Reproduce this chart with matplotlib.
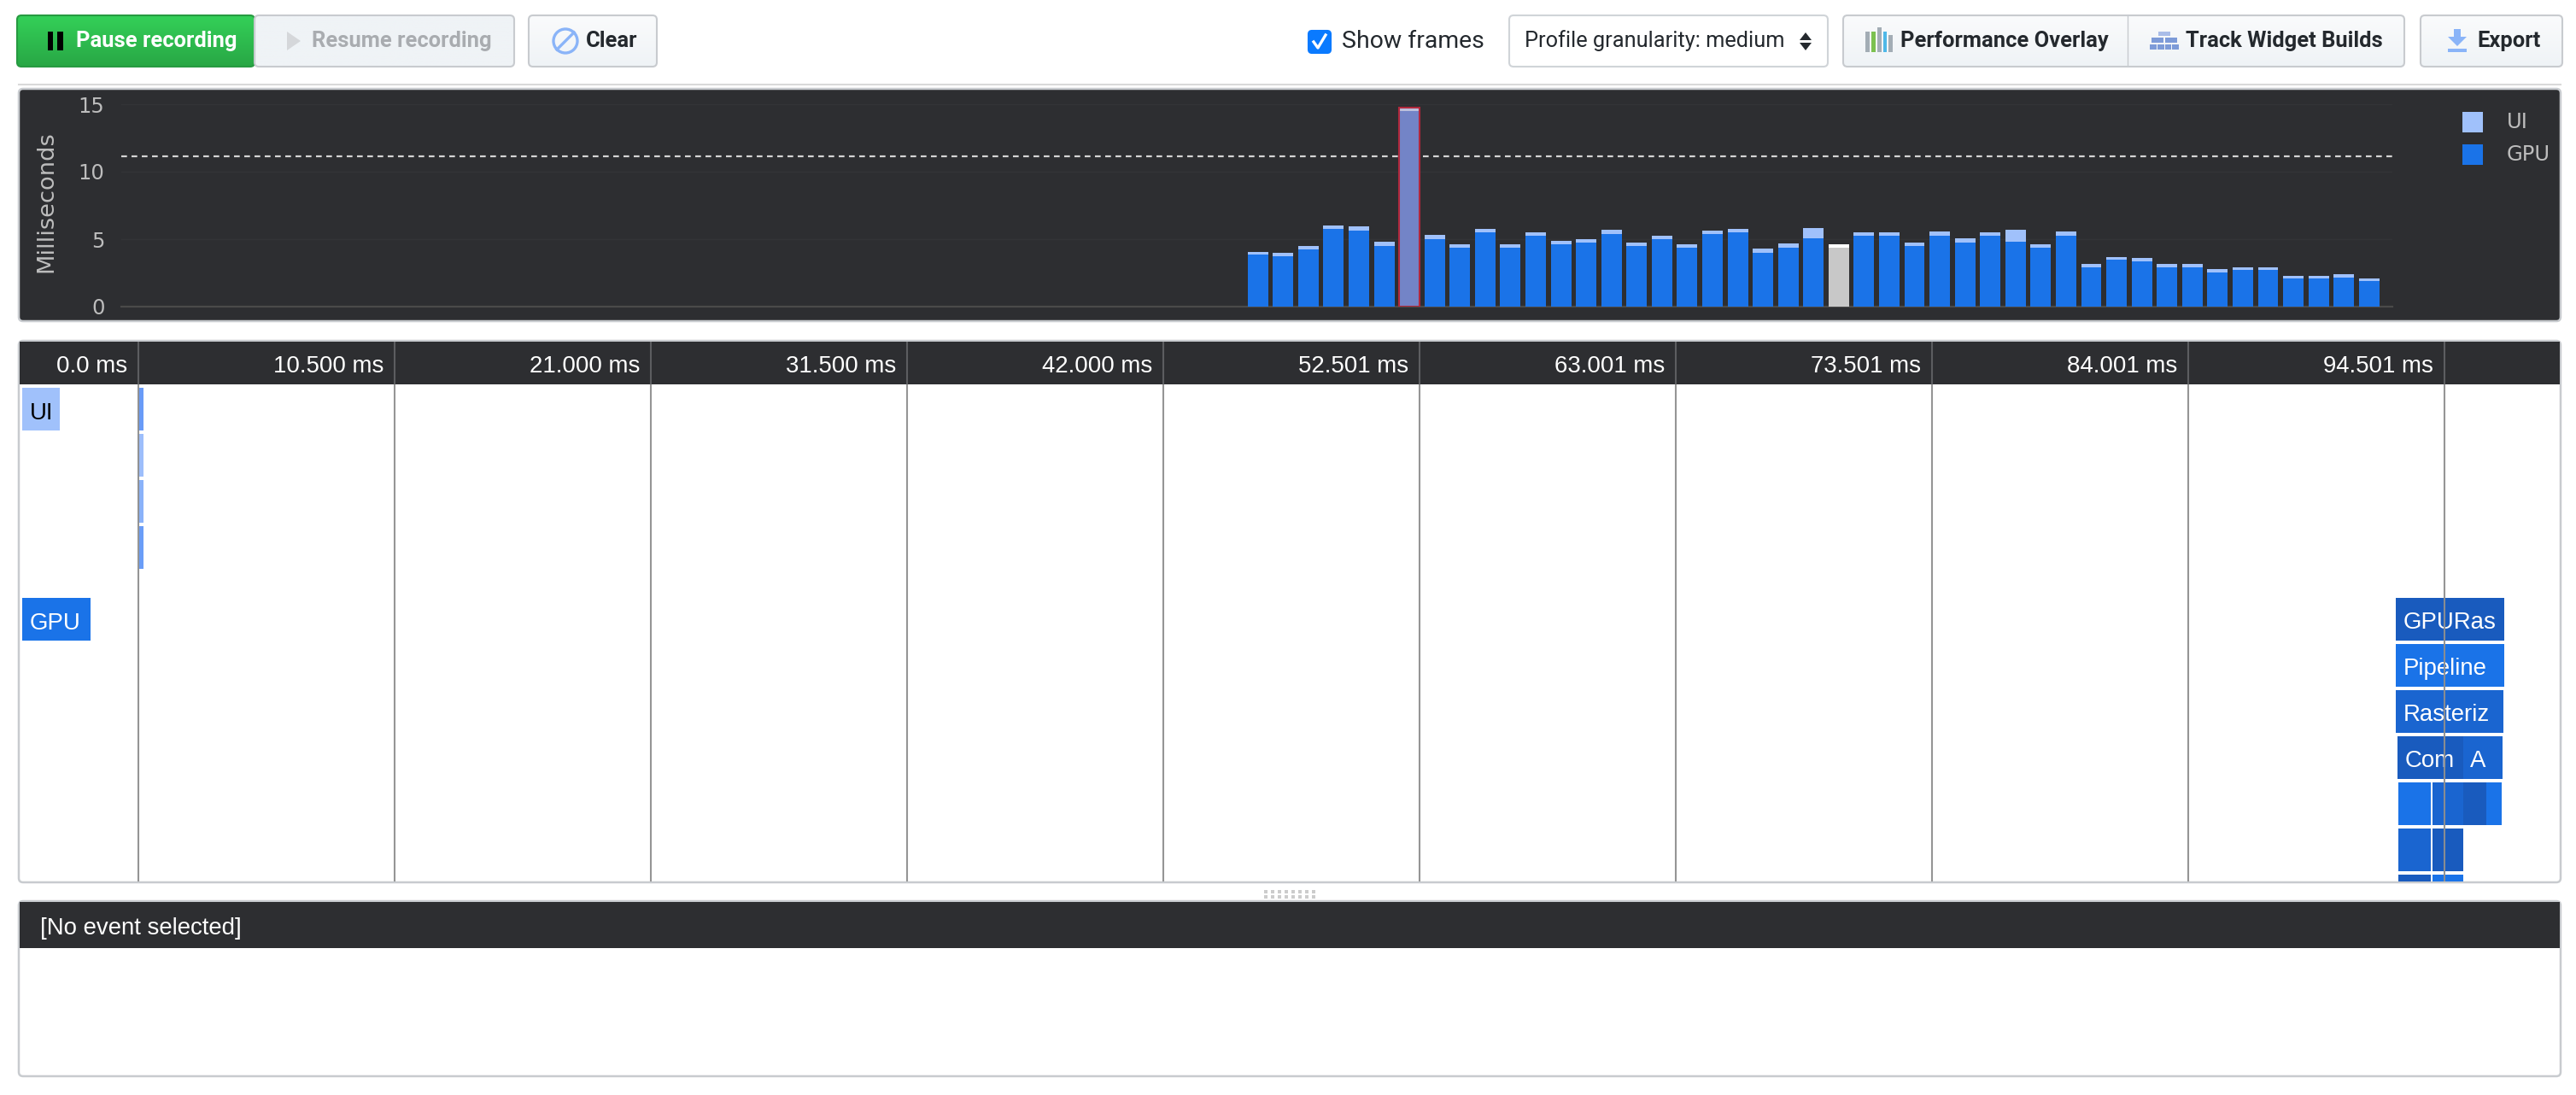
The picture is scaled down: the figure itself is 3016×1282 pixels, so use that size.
"""DevTools performance page: frame chart on top, timeline flame rows below."""
import matplotlib
matplotlib.use("Agg")
import matplotlib.pyplot as plt
import numpy as np
from matplotlib.colors import LinearSegmentedColormap
from matplotlib.patches import FancyBboxPatch, Rectangle, Circle, Polygon

W, H = 3016, 1282
INK = "#24292e"
DARK = "#2d2e31"
EDGE = "#c8cbcf"
UI_C = "#a0c1fb"
GPU_C = "#1a73e8"
GPU_MID = "#1a65d0"
GPU_DEEP = "#195bbe"

# frame chart, values in ms, first 45 slots of the chart are empty
frame_slot = np.arange(45, 90)
frame_gpu = [3.83, 3.71, 4.22, 5.74, 5.61, 4.47, 14.51, 4.98, 4.34, 5.49, 4.34, 5.23,
             4.60, 4.72, 5.36, 4.47, 4.98, 4.34, 5.36, 5.49, 3.96, 4.34, 5.04, 4.34,
             5.23, 5.23, 4.47, 5.23, 4.72, 5.23, 4.79, 4.34, 5.23, 2.94, 3.45, 3.33,
             2.94, 2.94, 2.56, 2.69, 2.69, 2.06, 2.06, 2.18, 1.93]
frame_ui = [0.25, 0.25, 0.25, 0.25, 0.32, 0.32, 0.21, 0.32, 0.25, 0.25, 0.25, 0.25,
            0.25, 0.25, 0.32, 0.25, 0.25, 0.25, 0.25, 0.25, 0.32, 0.32, 0.76, 0.25,
            0.25, 0.25, 0.25, 0.32, 0.32, 0.25, 0.89, 0.25, 0.32, 0.25, 0.25, 0.25,
            0.25, 0.25, 0.25, 0.25, 0.25, 0.25, 0.25, 0.25, 0.13]
selected_frame = 6
grey_frame = 23
target_ms = 11.11
y_ticks = [0, 5, 10, 15]

# timeline
tick_ms = [0.0, 10.5, 21.0, 31.5, 42.0, 52.501, 63.001, 73.501, 84.001, 94.501]
tick_labels = ["0.0 ms", "10.500 ms", "21.000 ms", "31.500 ms", "42.000 ms",
               "52.501 ms", "63.001 ms", "73.501 ms", "84.001 ms", "94.501 ms"]

ui_row = [0, 1, 2, 3]
ui_start = [0.01, 0.01, 0.01, 0.02]
ui_dur = [0.21, 0.19, 0.19, 0.18]
ui_col = ["#699bf7", "#9dbefb", "#8ab2f9", "#6a9df7"]

gpu_row = [0, 1, 2, 3, 3, 4, 4, 4, 4, 5, 5, 6, 6]
gpu_start = [92.52, 92.52, 92.52, 92.59, 95.28, 92.60, 94.00, 95.28, 96.20, 92.60, 94.01, 92.60, 94.02]
gpu_dur = [4.43, 4.43, 4.40, 2.69, 1.59, 1.35, 1.28, 0.92, 0.65, 1.35, 1.26, 1.35, 1.25]
gpu_col = [GPU_DEEP, GPU_C, GPU_MID, GPU_DEEP, GPU_MID, GPU_C, GPU_MID, GPU_DEEP, GPU_C,
           GPU_MID, GPU_DEEP, GPU_DEEP, GPU_C]
gpu_text = ["GPURas", "Pipeline", "Rasteriz", "Com", "A", "", "", "", "", "", "", "", ""]

fig = plt.figure(figsize=(W / 100, H / 100), dpi=100)
fig.patch.set_facecolor("white")


def px_axes(x0, y0, x1, y1, **kw):
    return fig.add_axes([x0 / W, 1 - y1 / H, (x1 - x0) / W, (y1 - y0) / H], **kw)


# page chrome in pixel coordinates
pg = fig.add_axes([0, 0, 1, 1], zorder=0)
pg.set_xlim(0, W); pg.set_ylim(H, 0); pg.axis("off")
pg.set_autoscale_on(False)

BTN = dict(family="Roboto", fontweight="bold", va="center")
BTN_FS = 18.4


def rbox(x0, y0, x1, y1, fc="white", ec=EDGE, lw=1.5, r=5, z=1):
    p = FancyBboxPatch((x0, y0), x1 - x0, y1 - y0, boxstyle=f"round,pad=0,rounding_size={r}",
                       fc=fc, ec=ec, lw=lw, zorder=z)
    pg.add_patch(p)
    return p


def button(x0, x1, top, bottom, ec=EDGE, y0=18, y1=78):
    p = rbox(x0, y0, x1, y1, fc="none", ec=ec, z=3)
    cm = LinearSegmentedColormap.from_list("b", [top, bottom])
    im = pg.imshow(np.linspace(0, 1, 64).reshape(-1, 1), cmap=cm, aspect="auto",
                   extent=(x0, x1, y1, y0), zorder=2)
    im.set_clip_path(p)


button(20, 298, "#34d058", "#28a745", ec="#279a41")
button(298, 602, "#eff3f6", "#eff3f6")
button(619, 769, "#fafbfc", "#eff3f6")
button(2158, 2815, "#fafbfc", "#eff3f6")
button(2834, 3000, "#fafbfc", "#eff3f6")
pg.plot([2491, 2491], [19, 77], color=EDGE, lw=1, zorder=4)
rbox(1767, 18, 2140, 78, fc="white", ec="#d0d4d8", z=2)

pg.add_patch(Rectangle((55.5, 37), 6.5, 22, fc="black", zorder=5))
pg.add_patch(Rectangle((67, 37), 6.5, 22, fc="black", zorder=5))
pg.add_patch(Polygon([(336, 37), (352, 48), (336, 59)], fc="#d5d7da", zorder=5))
pg.add_patch(Circle((662, 48), 14, fc="none", ec="#8ab4f8", lw=2.4, zorder=5))
pg.plot([652, 672], [58, 38], color="#8ab4f8", lw=2.4, zorder=5)

pg.text(89, 48, "Pause recording", color="white", fontsize=BTN_FS, zorder=6, **BTN)
pg.text(365, 48, "Resume recording", color="#a9acb0", fontsize=BTN_FS, zorder=6, **BTN)
pg.text(686, 48, "Clear", color=INK, fontsize=BTN_FS, zorder=6, **BTN)

rbox(1532, 36, 1558, 62, fc="#0a7aff", ec="#0a7aff", r=4, z=3)
pg.plot([1538, 1543, 1552], [49, 56, 41], color="white", lw=2.4, zorder=5)
pg.text(1571, 49, "Show frames", color=INK, fontsize=20.4, family="Roboto", va="center", zorder=6)
pg.text(1785, 48, "Profile granularity: medium", color=INK, fontsize=18.3, family="Roboto",
        va="center", zorder=6)
pg.add_patch(Polygon([(2107, 47), (2114, 38), (2121, 47)], fc=INK, zorder=5))
pg.add_patch(Polygon([(2107, 50), (2114, 59), (2121, 50)], fc=INK, zorder=5))

# little icons on the right hand buttons
for bx, by, bc in zip([2184, 2191, 2198, 2204.7, 2211.3], [36.7, 36.7, 32, 36.7, 41],
                      ["#a3adb5", "#7cc150", "#a3adb5", "#4fb8e8", "#a3adb5"]):
    pg.add_patch(Rectangle((bx, by), 4.7, 61 - by, fc=bc, lw=0, zorder=5))
pg.add_patch(Rectangle((2526.7, 36.7), 14.3, 5.6, fc="#a9bde8", lw=0, zorder=5))
for bx in [2518.7, 2534.7]:
    pg.add_patch(Rectangle((bx, 44), 14.5, 6, fc="#7d9bd8", lw=0, zorder=5))
for bx in [2517, 2526, 2534.7, 2543]:
    pg.add_patch(Rectangle((bx, 52), 7.5, 6.3, fc="#7d9bd8", lw=0, zorder=5))
pg.add_patch(Polygon([(2873, 34), (2881, 34), (2881, 43), (2888, 43), (2877, 54), (2866, 43), (2873, 43)],
                     fc="#8ab4f8", zorder=5))
pg.add_patch(Rectangle((2866, 57), 22, 3.5, fc="#8ab4f8", zorder=5))

pg.text(2225, 48, "Performance Overlay", color=INK, fontsize=BTN_FS, zorder=6, **BTN)
pg.text(2559, 48, "Track Widget Builds", color=INK, fontsize=BTN_FS, zorder=6, **BTN)
pg.text(2900, 48, "Export", color=INK, fontsize=BTN_FS, zorder=6, **BTN)

# panels
rbox(22, 104, 2998, 376, fc=DARK, ec=EDGE, lw=1.8, r=5)
pg.plot([22, 2998], [99, 99], color="#d9d9d9", lw=1.5)
rbox(22, 399, 2998, 1033, fc="white", ec=EDGE, lw=1.8, r=5)
rbox(22, 1055, 2998, 1260, fc="white", ec=EDGE, lw=1.8, r=5)
pg.add_patch(Rectangle((23, 1056), 2974, 54, fc=DARK, zorder=2))
pg.text(47, 1087, "[No event selected]", color="white", fontsize=19.9,
        family="Liberation Sans", va="center", zorder=3)

# drag handle between the panels
for hy in [1042, 1048]:
    for hx in range(1480, 1540, 8):
        pg.add_patch(Rectangle((hx, hy), 4, 4, fc="#cccccc", zorder=2))

# frame chart
ax = px_axes(142, 122, 2801, 359, zorder=2)
ax.patch.set_alpha(0)
ax.set_xlim(0, 89.92)
ax.set_ylim(0, 15)
ax.set_yticks(y_ticks)
ax.set_xticks([])
ax.tick_params(axis="y", length=0, pad=14, labelsize=17.5, labelcolor="#bdbdbd")
ax.yaxis.grid(True, color="#333437", lw=1)
ax.set_axisbelow(True)
for s in ["top", "right", "left"]:
    ax.spines[s].set_visible(False)
ax.spines["bottom"].set_color("#4a4a4a")
ax.spines["bottom"].set_linewidth(1.6)
ax.set_ylabel("Milliseconds", fontsize=19.6, color="#bdbdbd")
ax.yaxis.set_label_coords(-0.0282, 0.519)
ax.axhline(target_ms, color="#d4d4d4", lw=1.6, dashes=(3.0, 2.4), zorder=1)

gpu_colors = [GPU_C] * len(frame_gpu)
ui_colors = [UI_C] * len(frame_gpu)
gpu_colors[selected_frame] = "#7384c7"
ui_colors[selected_frame] = "#bcc0dc"
gpu_colors[grey_frame] = "#c8c8c8"
ui_colors[grey_frame] = "#ffffff"
ax.bar(frame_slot, frame_gpu, width=0.81, color=gpu_colors, zorder=3, clip_on=False)
ax.bar(frame_slot, frame_ui, bottom=frame_gpu, width=0.81, color=ui_colors, zorder=3)
ax.bar(frame_slot[selected_frame], frame_gpu[selected_frame] + frame_ui[selected_frame],
       width=0.81, fc="none", ec="#b0283c", lw=1.5, zorder=4)

pg.add_patch(Rectangle((2883, 131), 24, 24, fc=UI_C, zorder=3))
pg.add_patch(Rectangle((2883, 169), 24, 24, fc=GPU_C, zorder=3))
pg.text(2935, 143, "UI", color="#bdbdbd", fontsize=17.5, va="center", zorder=3)
pg.text(2935, 181, "GPU", color="#bdbdbd", fontsize=17.5, va="center", zorder=3)

# timeline, x in ms and y in rows
PX_MS = 300 / 10.5
ROW = 54
tl = px_axes(23, 400, 2997, 1032, zorder=2)
tl.patch.set_alpha(0)
tl.set_xlim((23 - 162) / PX_MS, (2997 - 162) / PX_MS)
tl.set_ylim((1032 - 454) / ROW, (400 - 454) / ROW)
tl.axis("off")
hdr_bottom = (450 - 454) / ROW
tl.axhspan((400 - 454) / ROW, hdr_bottom, color=DARK, lw=0, zorder=1)

tl.bar(ui_start, 50 / ROW, width=ui_dur, bottom=ui_row, color=ui_col, align="edge", zorder=2)

gpu_base = (700 - 454) / ROW
gpu_y = [gpu_base + r for r in gpu_row]
tl.bar(gpu_start, 50 / ROW, width=gpu_dur, bottom=gpu_y, color=gpu_col, align="edge", zorder=2)
for s, y, t in zip(gpu_start, gpu_y, gpu_text):
    if t:
        tl.annotate(t, (s, y + 29 / ROW), xytext=(8, 0), textcoords="offset pixels", color="white",
                    fontsize=19.9, family="Liberation Sans", va="center", zorder=3)

tl.vlines(tick_ms, hdr_bottom, (1032 - 454) / ROW, color="#8f8f8f", lw=1.5, alpha=0.95, zorder=4)
tl.vlines(tick_ms, (400 - 454) / ROW, hdr_bottom, color="#5c5d60", lw=1.5, zorder=4)
for t, lab in zip(tick_ms, tick_labels):
    tl.annotate(lab, (t, (429 - 454) / ROW), xytext=(-13, 0), textcoords="offset pixels", color="white",
                fontsize=19.9, family="Liberation Sans", ha="right", va="center", zorder=5)

# sticky row labels
pg_lab = px_axes(0, 0, W, H, zorder=3)
pg_lab.set_xlim(0, W); pg_lab.set_ylim(H, 0); pg_lab.axis("off")
pg_lab.add_patch(Rectangle((26, 454), 44, 50, fc=UI_C, lw=0))
pg_lab.add_patch(Rectangle((26, 700), 80, 50, fc=GPU_C, lw=0))
pg_lab.text(35, 484, "UI", color="black", fontsize=19.9, family="Liberation Sans", va="center")
pg_lab.text(35, 730, "GPU", color="white", fontsize=19.9, family="Liberation Sans", va="center")

fig.savefig("out.png", dpi=100, facecolor="white")
